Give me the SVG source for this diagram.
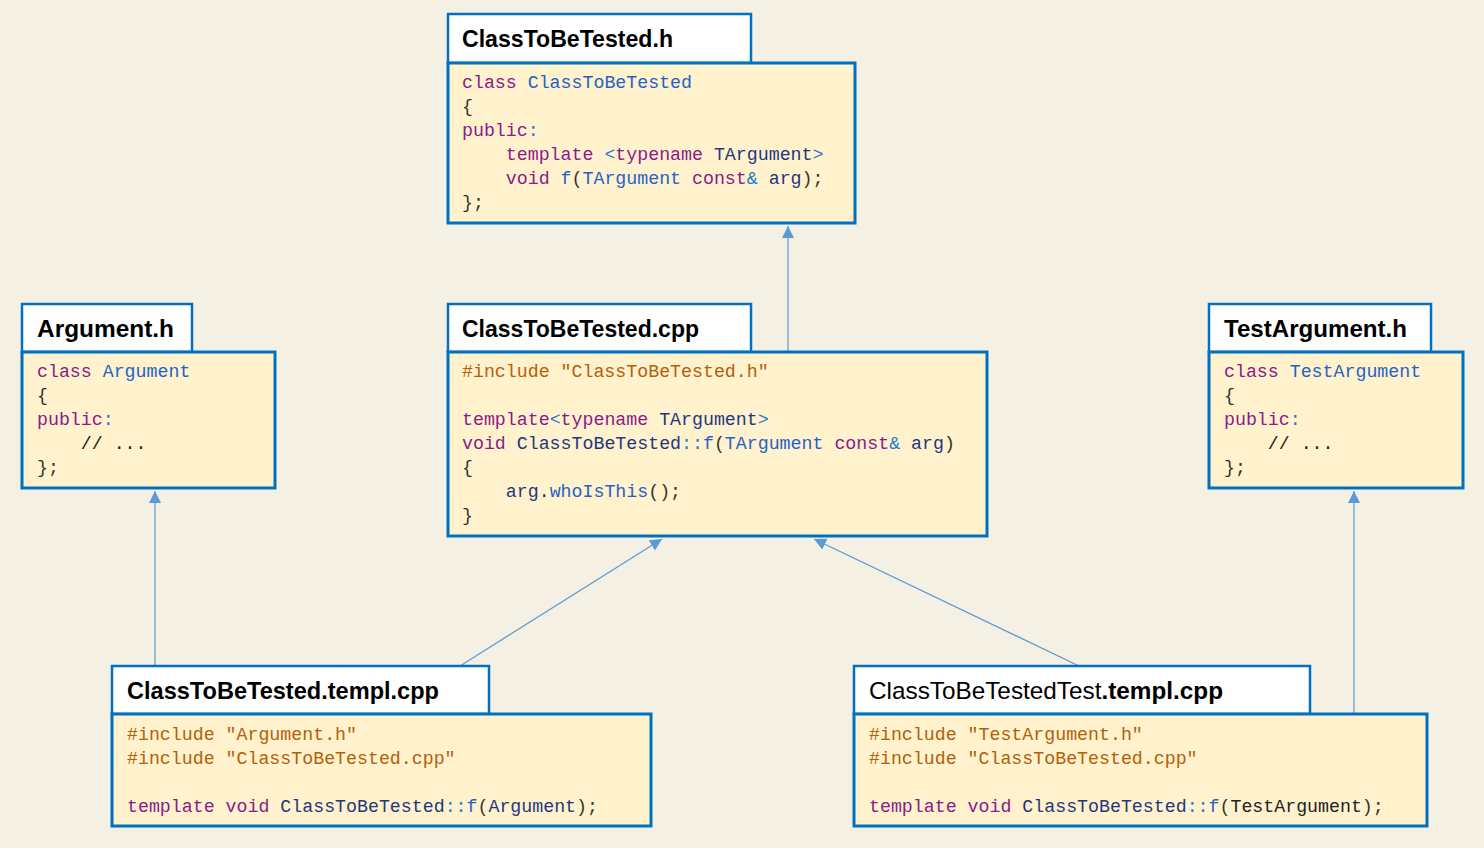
<svg xmlns="http://www.w3.org/2000/svg" width="1484" height="848" viewBox="0 0 1484 848">
<defs>
<marker id="arr" markerWidth="13" markerHeight="13" refX="12" refY="6.5" orient="auto" markerUnits="userSpaceOnUse">
<path d="M0,0.5 L12,6.5 L0,12.5 Z" fill="#5B9BD5"/>
</marker>
<style>
.title{fill:#fff;stroke:#0070C0;stroke-width:2.5}
.code{fill:#FFF2CC;stroke:#0070C0;stroke-width:3}
.tt{font-family:"Liberation Sans",Arial,sans-serif;font-size:24px;font-weight:bold;fill:#000}
.nb{font-weight:normal}
.c{font-family:"Liberation Mono","DejaVu Sans Mono",monospace;font-size:18.25px;fill:#333}
.k{fill:#8B1A8B}
.t{fill:#1F62C8}
.i{fill:#1F377F}
.o{fill:#1E7BD6}
.p{fill:#B3600B}
.d{fill:#222}
.conn{stroke:#5B9BD5;stroke-width:1.2;fill:none}
</style>
</defs>
<rect width="1484" height="848" fill="#F5F0E4"/>

<g id="connectors">
<line class="conn" x1="788" y1="352" x2="788" y2="226" marker-end="url(#arr)"/>
<line class="conn" x1="155" y1="666" x2="155" y2="491" marker-end="url(#arr)"/>
<line class="conn" x1="1354" y1="714" x2="1354" y2="491" marker-end="url(#arr)"/>
<line class="conn" x1="460" y1="666" x2="662" y2="539" marker-end="url(#arr)"/>
<line class="conn" x1="1077" y1="665" x2="814" y2="539" marker-end="url(#arr)"/>
</g>

<g id="node-classtobetested-h">
<rect class="title" x="448" y="14" width="303" height="49"/>
<rect class="code" x="448" y="63" width="407" height="160"/>
<text class="tt" x="462" y="47" textLength="211" lengthAdjust="spacingAndGlyphs">ClassToBeTested.h</text>
<text class="c" xml:space="preserve" x="462" y="88"><tspan class="k">class</tspan> <tspan class="t">ClassToBeTested</tspan></text>
<text class="c" x="462" y="112">{</text>
<text class="c" x="462" y="136"><tspan class="k">public</tspan><tspan class="o">:</tspan></text>
<text class="c" xml:space="preserve" x="462" y="160">    <tspan class="k">template</tspan> <tspan class="o">&lt;</tspan><tspan class="k">typename</tspan> <tspan class="i">TArgument</tspan><tspan class="o">&gt;</tspan></text>
<text class="c" xml:space="preserve" x="462" y="184">    <tspan class="k">void</tspan> <tspan class="t">f</tspan>(<tspan class="t">TArgument</tspan> <tspan class="k">const</tspan><tspan class="o">&amp;</tspan> <tspan class="i">arg</tspan>);</text>
<text class="c" x="462" y="208">};</text>
</g>

<g id="node-classtobetested-cpp">
<rect class="title" x="448" y="304" width="303" height="48"/>
<rect class="code" x="448" y="352" width="539" height="184"/>
<text class="tt" x="462" y="337" textLength="237" lengthAdjust="spacingAndGlyphs">ClassToBeTested.cpp</text>
<text class="c p" x="462" y="377">#include "ClassToBeTested.h"</text>
<text class="c" x="462" y="425"><tspan class="k">template</tspan><tspan class="o">&lt;</tspan><tspan class="k">typename</tspan> <tspan class="i">TArgument</tspan><tspan class="o">&gt;</tspan></text>
<text class="c" xml:space="preserve" x="462" y="449"><tspan class="k">void</tspan> <tspan class="i">ClassToBeTested</tspan><tspan class="o">::</tspan><tspan class="t">f</tspan>(<tspan class="t">TArgument</tspan> <tspan class="k">const</tspan><tspan class="o">&amp;</tspan> <tspan class="i">arg</tspan>)</text>
<text class="c" x="462" y="473">{</text>
<text class="c" xml:space="preserve" x="462" y="497">    <tspan class="i">arg</tspan>.<tspan class="t">whoIsThis</tspan>();</text>
<text class="c" x="462" y="521">}</text>
</g>

<g id="node-argument-h">
<rect class="title" x="22" y="304" width="170" height="48"/>
<rect class="code" x="22" y="352" width="253" height="136"/>
<text class="tt" x="37" y="337" textLength="137" lengthAdjust="spacingAndGlyphs">Argument.h</text>
<text class="c" xml:space="preserve" x="37" y="377"><tspan class="k">class</tspan> <tspan class="t">Argument</tspan></text>
<text class="c" x="37" y="401">{</text>
<text class="c" x="37" y="425"><tspan class="k">public</tspan><tspan class="o">:</tspan></text>
<text class="c d" xml:space="preserve" x="37" y="449">    // ...</text>
<text class="c" x="37" y="473">};</text>
</g>

<g id="node-testargument-h">
<rect class="title" x="1209" y="304" width="222" height="48"/>
<rect class="code" x="1209" y="352" width="254" height="136"/>
<text class="tt" x="1224" y="337" textLength="183" lengthAdjust="spacingAndGlyphs">TestArgument.h</text>
<text class="c" xml:space="preserve" x="1224" y="377"><tspan class="k">class</tspan> <tspan class="t">TestArgument</tspan></text>
<text class="c" x="1224" y="401">{</text>
<text class="c" x="1224" y="425"><tspan class="k">public</tspan><tspan class="o">:</tspan></text>
<text class="c d" xml:space="preserve" x="1224" y="449">    // ...</text>
<text class="c" x="1224" y="473">};</text>
</g>

<g id="node-classtobetested-templ-cpp">
<rect class="title" x="112" y="666" width="377" height="48"/>
<rect class="code" x="112" y="714" width="539" height="112"/>
<text class="tt" x="127" y="699" textLength="312" lengthAdjust="spacingAndGlyphs">ClassToBeTested.templ.cpp</text>
<text class="c p" x="127" y="740">#include "Argument.h"</text>
<text class="c p" x="127" y="764">#include "ClassToBeTested.cpp"</text>
<text class="c" xml:space="preserve" x="127" y="812"><tspan class="k">template</tspan> <tspan class="k">void</tspan> <tspan class="i">ClassToBeTested</tspan><tspan class="o">::</tspan><tspan class="t">f</tspan>(<tspan class="i">Argument</tspan>);</text>
</g>

<g id="node-classtobetestedtest-templ-cpp">
<rect class="title" x="854" y="666" width="456" height="48"/>
<rect class="code" x="854" y="714" width="573" height="112"/>
<text class="tt" x="869" y="699" textLength="354" lengthAdjust="spacingAndGlyphs"><tspan class="nb">ClassToBeTestedTest</tspan>.templ.cpp</text>
<text class="c p" x="869" y="740">#include "TestArgument.h"</text>
<text class="c p" x="869" y="764">#include "ClassToBeTested.cpp"</text>
<text class="c" xml:space="preserve" x="869" y="812"><tspan class="k">template</tspan> <tspan class="k">void</tspan> <tspan class="i">ClassToBeTested</tspan><tspan class="o">::</tspan><tspan class="t">f</tspan>(<tspan class="d">TestArgument</tspan>);</text>
</g>
</svg>
